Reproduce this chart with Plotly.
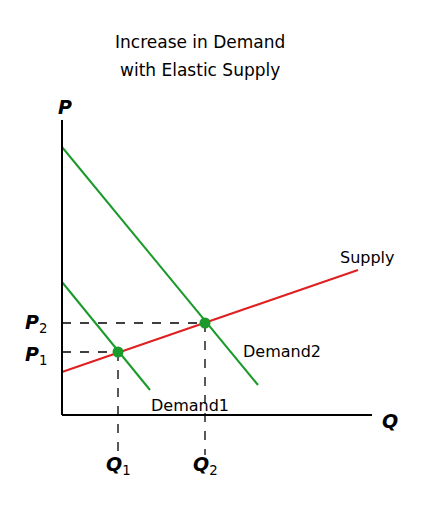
import plotly.graph_objects as go

supply_x = [0, 296]; supply_y = [43, 145]
d1_x = [0, 88]; d1_y = [133, 25]
d2_x = [0, 196]; d2_y = [268, 30]
eq_x = [56, 143]; eq_y = [63, 92]
green = "#1a9a2a"; red = "#e02020"

fig = go.Figure()
for i in range(2):
    fig.add_trace(go.Scatter(x=[0, eq_x[i]], y=[eq_y[i]]*2, mode="lines",
                             line=dict(color="black", width=1.3, dash="dash")))
    fig.add_trace(go.Scatter(x=[eq_x[i]]*2, y=[eq_y[i], -40], mode="lines",
                             line=dict(color="black", width=1.3, dash="dash")))
fig.add_trace(go.Scatter(x=supply_x, y=supply_y, mode="lines", line=dict(color=red, width=2)))
fig.add_trace(go.Scatter(x=d1_x, y=d1_y, mode="lines", line=dict(color=green, width=2)))
fig.add_trace(go.Scatter(x=d2_x, y=d2_y, mode="lines", line=dict(color=green, width=2)))
fig.add_trace(go.Scatter(x=[0, 310], y=[0, 0], mode="lines", line=dict(color="black", width=2)))
fig.add_trace(go.Scatter(x=[0, 0], y=[0, 295], mode="lines", line=dict(color="black", width=2)))
fig.add_trace(go.Scatter(x=eq_x, y=eq_y, mode="markers", marker=dict(color=green, size=11)))

F = "DejaVu Sans"
ann = [
    (138, 373, "Increase in Demand", 17, "black"),
    (138, 345, "with Elastic Supply", 17, "black"),
    (3, 308, "<b><i>P</i></b>", 19, "black"),
    (328, -6, "<b><i>Q</i></b>", 19, "black"),
    (305, 158, "Supply", 16, "black"),
    (220, 64, "Demand2", 16, "black"),
    (128, 10, "Demand1", 16, "black"),
    (-26, 92, "<b><i>P</i></b><sub>2</sub>", 19, "black"),
    (-26, 60, "<b><i>P</i></b><sub>1</sub>", 19, "black"),
    (eq_x[0], -50, "<b><i>Q</i></b><sub>1</sub>", 19, "black"),
    (eq_x[1], -50, "<b><i>Q</i></b><sub>2</sub>", 19, "black"),
]
for x, y, t, s, c in ann:
    fig.add_annotation(x=x, y=y, text=t, showarrow=False, font=dict(family=F, size=s, color=c))

fig.update_layout(width=431, height=505, margin=dict(l=0, r=0, t=0, b=0),
                  showlegend=False, plot_bgcolor="white", paper_bgcolor="white",
                  xaxis=dict(range=[-54, 377], visible=False),
                  yaxis=dict(range=[-98, 407], visible=False))
fig.write_html("out.html")
